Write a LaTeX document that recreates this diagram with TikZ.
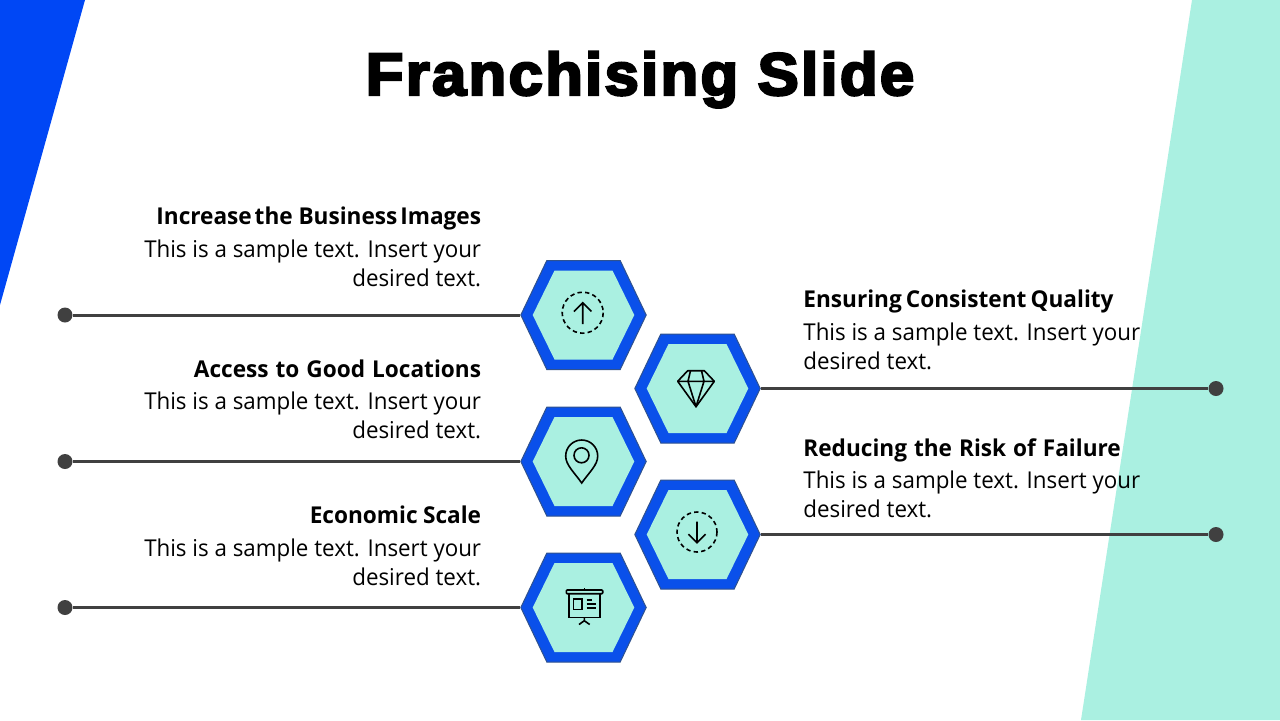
\documentclass[tikz,border=0pt]{standalone}
\usepackage{fontspec}
\setmainfont{Open Sans}[FakeStretch=0.963,BoldFeatures={FakeStretch=0.975,WordSpace=0.7}]
\newfontfamily\titlefont[BoldFeatures={FakeBold=4,FakeStretch=1.03,LetterSpace=3.7}]{Liberation Sans}
\definecolor{hexblue}{HTML}{0A50EA}
\definecolor{hexedge}{HTML}{2F528F}
\definecolor{hexteal}{HTML}{AAF0E1}
\definecolor{linkgray}{HTML}{404040}
\definecolor{cornerblue}{HTML}{0047F5}
\tikzset{
  hexbox/.style={minimum width=62.7pt,minimum height=54.5pt,inner sep=0pt},
  dotnode/.style={circle,fill=linkgray,minimum size=7.5pt,inner sep=0pt},
  linkline/.style={draw=linkgray,line width=1.5pt},
  headnode/.style={font=\fontsize{11.6}{14}\selectfont\bfseries,inner sep=0pt},
  bodynode/.style={font=\fontsize{11.6}{14.5}\selectfont,inner sep=0pt,text=black},
  iconline/.style={line width=0.8pt,draw=black}
}
\begin{document}
\begin{tikzpicture}[x=0.5pt,y=-0.5pt]
  \useasboundingbox (0,0) rectangle (1280,720);
  \fill[cornerblue] (0,0) -- (85,0) -- (0,305) -- cycle;
  \fill[hexteal] (1192,0) -- (1280,0) -- (1280,720) -- (1081,720) -- cycle;
  \node[anchor=base,inner sep=0pt,font=\fontsize{30}{36}\selectfont\titlefont\bfseries] (title) at (640,95) {Franchising Slide};
  % hexagons
  \foreach \n/\x/\y in {hexa/583.5/315,hexb/697.5/388.5,hexc/583.5/461.5,hexd/697.5/534.5,hexe/583.5/607.5}{
    \begin{scope}[shift={(\x,\y)}]
      \fill[hexblue,draw=hexedge,line width=0.5pt] (-62.7,0) -- (-36.7,-54.5) -- (36.7,-54.5) -- (62.7,0) -- (36.7,54.5) -- (-36.7,54.5) -- cycle;
      \fill[hexteal] (-50.8,0) -- (-29,-44.5) -- (29,-44.5) -- (50.8,0) -- (29,44.5) -- (-29,44.5) -- cycle;
    \end{scope}
    \node[hexbox] (\n) at (\x,\y) {};
  }
  % left side
  \foreach \n/\m/\y/\h/\b/\w/\t in {a/hexa/315/224/239/0.7/Increase the\ \ Business Images,c/hexc/461.5/377.5/391.5/1.7/Access to Good Locations,e/hexe/607.5/523.5/538.5/1.3/Economic Scale}{
    \node[dotnode] (dot\n) at (65,\y) {};
    \draw[linkline] (dot\n) -- (\m.west);
    \node[headnode,anchor=base east] (head\n) at (481.5,\h) {\spaceskip=\w\fontdimen2\font\t};
    \node[bodynode,anchor=north east,align=right] (text\n) at (481.5,\b) {This is a sample text. Insert your\\desired text.};
  }
  % right side
  \foreach \n/\m/\y/\h/\b/\w/\t in {b/hexb/388.5/307.5/322.5/1/Ensuring Consistent Quality,d/hexd/534.5/456.5/470.5/1.7/Reducing the Risk of Failure}{
    \node[dotnode] (dot\n) at (1216,\y) {};
    \draw[linkline] (\m.east) -- (dot\n);
    \node[headnode,anchor=base west] (head\n) at (803,\h) {\spaceskip=\w\fontdimen2\font\t};
    \node[bodynode,anchor=north west,align=left] (text\n) at (803,\b) {This is a sample text. Insert your\\desired text.};
  }
  % icons
  \draw[iconline,dashed,dash pattern=on 2.2pt off 1.6pt] (582.7,312.7) circle (20.5);
  \draw[iconline] (582.7,324) -- (582.7,302.7) (574,311.5) -- (582.7,302.7) -- (591.4,311.5);
  \draw[iconline,dashed,dash pattern=on 2.2pt off 1.6pt] (697,532) circle (20);
  \draw[iconline] (697,521.7) -- (697,542.7) (688.5,534.2) -- (697,542.7) -- (705.5,534.2);
  \draw[iconline,line join=round] (687.7,370.7) -- (704.3,370.7) -- (714.3,381.3) -- (696,406.7) -- (677.7,381.3) -- cycle;
  \draw[iconline,line join=round] (677.7,381.3) -- (714.3,381.3) (690.5,370.7) -- (688,381.3) -- (696,406.7) -- (704,381.3) -- (701.5,370.7);
  \draw[iconline] (581.7,483) .. controls (574,472) and (565.7,465) .. (565.7,456) arc[start angle=180,end angle=360,radius=16] .. controls (597.7,465) and (589.4,472) .. (581.7,483) -- cycle;
  \draw[iconline] (581.5,455.3) circle (7.5);
  \draw[iconline,rounded corners=0.5pt] (566.3,590) rectangle (602.7,593.7);
  \draw[iconline] (569,593.7) -- (569,617.5) -- (600,617.5) -- (600,593.7);
  \draw[iconline] (584.3,590) -- (584.3,588.3);
  \draw[iconline] (573.3,599) rectangle (582,609.3);
  \draw[iconline,line width=0.6pt] (586.7,600) -- (592,600) (586.7,604) -- (596.3,604) (586.7,608) -- (596.3,608);
  \draw[iconline] (584.3,617.5) -- (584.3,620.7) (579,624.5) -- (584.3,620.7) -- (589.7,624.5);
\end{tikzpicture}
\end{document}
